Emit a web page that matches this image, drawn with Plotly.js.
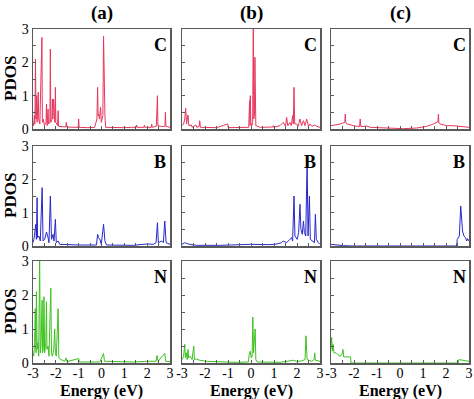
<!DOCTYPE html>
<html>
<head>
<meta charset="utf-8">
<script src="https://cdn.plot.ly/plotly-3.0.1.min.js"></script>
<style>html,body{margin:0;padding:0;background:#fff;}#chart{width:474px;height:399px;}</style>
</head>
<body>
<div id="chart"></div>
<script>
// ---------- data ----------
const columnTitles = ['(a)', '(b)', '(c)'];
const elementLabels = ['C', 'B', 'N'];
const xTickVals = [-3, -2.5, -2, -1.5, -1, -0.5, 0, 0.5, 1, 1.5, 2, 2.5, 3];
const xTickText = ['-3', '', '-2', '', '-1', '', '0', '', '1', '', '2', '', '3'];
const yTickVals = [0, 0.5, 1, 1.5, 2, 2.5, 3];
const yTickText = ['0', '', '1', '', '2', '', '3'];

// (a) C
const aC_energy = [-3.00,-2.97,-2.94,-2.92,-2.89,-2.87,-2.84,-2.82,-2.77,-2.75,-2.70,-2.61,-2.59,-2.55,-2.50,-2.43,-2.41,-2.38,-2.34,-2.32,-2.26,-2.24,-2.22,-2.17,-2.15,-2.13,-2.10,-2.04,-2.02,-2.00,-1.92,-1.90,-1.88,-1.80,-1.56,-1.54,-1.52,-1.20,-1.02,-1.00,-0.98,-0.60,-0.30,-0.20,-0.17,-0.15,-0.12,-0.09,-0.04,-0.01,0.06,0.09,0.12,0.15,0.18,0.50,1.00,1.30,1.52,1.54,1.56,1.86,1.88,1.90,2.18,2.20,2.22,2.40,2.45,2.47,2.60,2.78,2.80,2.82,3.00];
const aC_pdos   = [0.20,0.10,0.40,0.15,2.10,0.30,1.00,0.20,1.10,0.30,0.15,2.75,0.20,0.30,0.10,0.20,0.75,0.10,0.60,0.15,0.20,2.40,0.20,0.30,0.90,0.30,0.90,0.20,1.25,0.20,0.10,0.55,0.08,0.08,0.06,0.20,0.06,0.05,0.05,0.30,0.05,0.04,0.05,0.30,1.25,0.40,0.45,0.30,0.65,0.20,0.40,2.78,0.40,0.40,0.05,0.04,0.04,0.05,0.05,0.12,0.05,0.05,0.12,0.05,0.05,0.15,0.05,0.08,1.00,0.10,0.08,0.08,0.50,0.08,0.05];
// (b) C
const bC_energy = [-3.00,-2.93,-2.88,-2.84,-2.80,-2.74,-2.70,-2.59,-2.56,-2.40,-2.36,-2.25,-2.23,-2.20,-1.50,-1.01,-0.99,-0.96,-0.30,-0.10,-0.06,-0.04,-0.03,-0.01,0.04,0.07,0.10,0.12,0.13,0.15,0.17,0.19,0.21,0.40,0.95,0.97,0.99,1.26,1.40,1.50,1.55,1.60,1.69,1.75,1.81,1.84,1.87,1.90,1.99,2.05,2.13,2.20,2.28,2.35,2.42,2.50,2.57,2.65,2.76,2.86,3.00];
const bC_pdos   = [0.10,0.15,0.30,0.62,0.15,0.42,0.10,0.12,0.05,0.12,0.05,0.08,0.25,0.05,0.04,0.15,0.04,0.04,0.03,0.05,0.85,0.10,1.00,0.20,0.10,0.20,3.20,0.30,0.70,0.40,2.15,0.40,0.10,0.05,0.06,0.10,0.05,0.10,0.20,0.08,0.35,0.10,0.20,0.10,0.40,0.15,1.25,0.15,0.15,0.08,0.30,0.10,0.25,0.10,0.30,0.08,0.15,0.08,0.12,0.08,0.05];
// (c) C
const cC_energy = [-3.00,-2.74,-2.60,-2.48,-2.40,-2.38,-2.36,-2.31,-2.16,-2.02,-1.76,-1.73,-1.70,-1.58,-1.44,-1.29,-0.57,0.15,0.73,1.16,1.45,1.60,1.65,1.67,1.69,1.74,1.88,2.03,2.32,2.61,3.00];
const cC_pdos   = [0.10,0.12,0.15,0.18,0.20,0.45,0.20,0.15,0.12,0.10,0.07,0.30,0.07,0.08,0.09,0.05,0.02,0.01,0.03,0.08,0.15,0.20,0.22,0.45,0.18,0.15,0.12,0.10,0.10,0.08,0.05];
// (a) B
const aB_energy = [-3.00,-2.96,-2.88,-2.85,-2.82,-2.80,-2.74,-2.68,-2.60,-2.56,-2.49,-2.41,-2.34,-2.30,-2.24,-2.19,-2.12,-2.08,-2.02,-1.98,-1.90,-1.83,-1.00,-0.22,-0.17,-0.13,-0.07,-0.01,0.09,0.15,0.22,1.39,1.98,2.27,2.39,2.45,2.49,2.64,2.71,2.77,2.83,3.00];
const aB_pdos   = [0.10,0.20,0.65,0.20,1.45,0.25,0.30,0.15,1.75,0.15,0.20,0.42,0.25,0.10,1.50,0.20,0.35,0.15,0.80,0.10,0.15,0.05,0.03,0.03,0.35,0.25,0.20,0.05,0.65,0.15,0.03,0.02,0.06,0.05,0.10,0.70,0.10,0.15,0.10,0.75,0.10,0.05];
// (b) B
const bB_energy = [-3.00,-2.88,-2.81,-2.67,-2.38,-1.36,-0.02,0.82,1.11,1.33,1.40,1.55,1.69,1.77,1.81,1.87,1.91,2.01,2.07,2.13,2.17,2.23,2.28,2.32,2.38,2.44,2.48,2.54,2.58,2.68,2.76,2.80,2.84,2.93,3.00];
const bB_pdos   = [0.05,0.10,0.08,0.05,0.02,0.02,0.05,0.04,0.06,0.10,0.15,0.10,0.20,0.25,0.15,1.50,0.30,0.20,0.40,1.25,0.50,0.35,0.75,0.40,0.30,2.58,0.30,1.50,0.20,0.15,0.10,0.95,0.20,0.10,0.05];
// (c) B
const cB_energy = [-3.00,-2.74,-2.45,-2.02,2.46,2.49,2.58,2.64,2.68,2.72,2.78,2.85,2.90,2.94,3.00];
const cB_pdos   = [0.05,0.03,0.01,0.00,0.00,0.20,0.30,1.20,0.70,0.45,0.30,0.25,0.15,0.22,0.15];
// (a) N
const aN_energy = [-3.00,-2.97,-2.93,-2.90,-2.87,-2.85,-2.82,-2.78,-2.75,-2.71,-2.68,-2.65,-2.60,-2.58,-2.55,-2.52,-2.49,-2.44,-2.41,-2.39,-2.34,-2.30,-2.22,-2.19,-2.15,-2.09,-2.05,-2.02,-1.98,-1.90,-1.87,-1.78,-1.61,-1.54,-1.51,-1.00,-0.97,-0.07,0.09,0.13,1.39,1.98,2.39,2.43,2.48,2.77,2.81,3.00];
const aN_pdos   = [0.30,0.20,0.60,1.60,0.30,2.10,0.40,0.60,0.20,3.20,0.30,0.50,1.85,0.30,0.40,1.95,0.30,0.60,1.80,0.40,0.50,0.20,2.20,0.30,0.20,0.40,1.00,0.30,0.20,1.60,0.15,0.10,0.05,0.15,0.04,0.13,0.03,0.03,0.28,0.05,0.03,0.05,0.05,0.22,0.05,0.28,0.05,0.04];
// (b) N
const bN_energy = [-3.00,-2.93,-2.88,-2.85,-2.81,-2.77,-2.74,-2.71,-2.64,-2.56,-2.49,-2.46,-2.38,-2.23,-1.94,-1.36,-0.63,-0.11,-0.08,-0.03,0.01,0.05,0.08,0.11,0.14,0.18,0.21,0.27,1.26,1.84,1.99,2.20,2.35,2.39,2.44,2.64,2.74,2.77,2.80,3.00];
const bN_pdos   = [0.10,0.20,0.55,0.15,0.30,0.10,0.40,0.15,0.20,0.10,0.50,0.10,0.12,0.08,0.05,0.03,0.02,0.03,0.25,0.35,0.15,0.20,1.35,0.30,0.55,1.00,0.10,0.03,0.02,0.08,0.05,0.06,0.10,0.80,0.10,0.05,0.10,0.30,0.08,0.05];
// (c) N
const cN_energy = [-3.00,-2.97,-2.94,-2.91,-2.87,-2.78,-2.71,-2.61,-2.52,-2.48,-2.45,-2.35,-2.23,-2.15,-2.13,2.53,2.56,2.71,2.85,3.00];
const cN_pdos   = [0.40,0.75,0.35,0.55,0.30,0.30,0.25,0.20,0.25,0.40,0.18,0.18,0.18,0.18,0.00,0.00,0.10,0.08,0.06,0.05];

const panels = [
  [[aC_energy, aC_pdos], [bC_energy, bC_pdos], [cC_energy, cC_pdos]],
  [[aB_energy, aB_pdos], [bB_energy, bB_pdos], [cB_energy, cB_pdos]],
  [[aN_energy, aN_pdos], [bN_energy, bN_pdos], [cN_energy, cN_pdos]]
];

// ---------- style ----------
const rowColors = ['#e8365d', '#2828cc', '#3cc21e'];
const W = 474, H = 399;
const colPx = [[33, 170], [182, 320], [331, 469]];
const rowPx = [[29, 129], [146, 246], [261, 363]];
const serif = "'Liberation Serif', 'Times New Roman', Times, serif";
const frame = '#5a5a5a';

const traces = [];
const layout = {
  width: W, height: H,
  margin: {l: 0, r: 0, t: 0, b: 0},
  paper_bgcolor: '#fff', plot_bgcolor: '#fff',
  showlegend: false,
  font: {family: serif, color: '#000', size: 14},
  annotations: []
};

for (let r = 0; r < 3; r++) {
  for (let c = 0; c < 3; c++) {
    const k = r * 3 + c + 1;
    const xa = 'x' + (k === 1 ? '' : k), ya = 'y' + (k === 1 ? '' : k);
    const xKey = 'xaxis' + (k === 1 ? '' : k), yKey = 'yaxis' + (k === 1 ? '' : k);
    const [E, P] = panels[r][c];
    traces.push({x: E, y: P, xaxis: xa, yaxis: ya, type: 'scatter', mode: 'lines',
      line: {color: rowColors[r], width: 1}, hoverinfo: 'skip'});
    layout[xKey] = {
      domain: [colPx[c][0] / W, colPx[c][1] / W], anchor: ya,
      range: [-3, 3], tickmode: 'array', tickvals: xTickVals, ticktext: xTickText,
      ticks: 'inside', ticklen: 3, tickcolor: frame, tickwidth: 1,
      showticklabels: r === 2, tickfont: {family: serif, size: 14, color: '#000'},
      ticklabelstandoff: -3,
      showline: true, mirror: true, linecolor: frame, linewidth: 1.5,
      showgrid: false, zeroline: false, fixedrange: true
    };
    layout[yKey] = {
      domain: [1 - rowPx[r][1] / H, 1 - rowPx[r][0] / H], anchor: xa,
      range: [0, 3], tickmode: 'array', tickvals: yTickVals, ticktext: yTickText,
      ticks: 'inside', ticklen: 3, tickcolor: frame, tickwidth: 1,
      showticklabels: c === 0, tickfont: {family: serif, size: 14, color: '#000'},
      showline: true, mirror: true, linecolor: frame, linewidth: 1.5,
      showgrid: false, zeroline: false, fixedrange: true
    };
    layout.annotations.push({
      xref: xa + ' domain', yref: ya + ' domain', x: 0.93, y: 0.84,
      xanchor: 'center', yanchor: 'middle', showarrow: false,
      text: '<b>' + elementLabels[r] + '</b>', font: {family: serif, size: 18, color: '#000'}
    });
  }
  layout.annotations.push({
    xref: 'paper', yref: 'paper', x: 10 / W, y: 1 - (rowPx[r][0] + rowPx[r][1]) / 2 / H,
    xanchor: 'center', yanchor: 'middle', textangle: -90, showarrow: false,
    text: '<b>PDOS</b>', font: {family: serif, size: 17, color: '#000'}
  });
}
for (let c = 0; c < 3; c++) {
  layout.annotations.push({
    xref: 'paper', yref: 'paper', x: (colPx[c][0] + colPx[c][1]) / 2 / W, y: 1 - 13 / H,
    xanchor: 'center', yanchor: 'middle', showarrow: false,
    text: '<b>' + columnTitles[c] + '</b>', font: {family: serif, size: 19, color: '#000'}
  });
  layout.annotations.push({
    xref: 'paper', yref: 'paper', x: (colPx[c][0] + colPx[c][1]) / 2 / W, y: 1 - 391 / H,
    xanchor: 'center', yanchor: 'middle', showarrow: false,
    text: '<b>Energy (eV)</b>', font: {family: serif, size: 16, color: '#000'}
  });
}

Plotly.newPlot('chart', traces, layout, {staticPlot: true, displayModeBar: false});
</script>
</body>
</html>
